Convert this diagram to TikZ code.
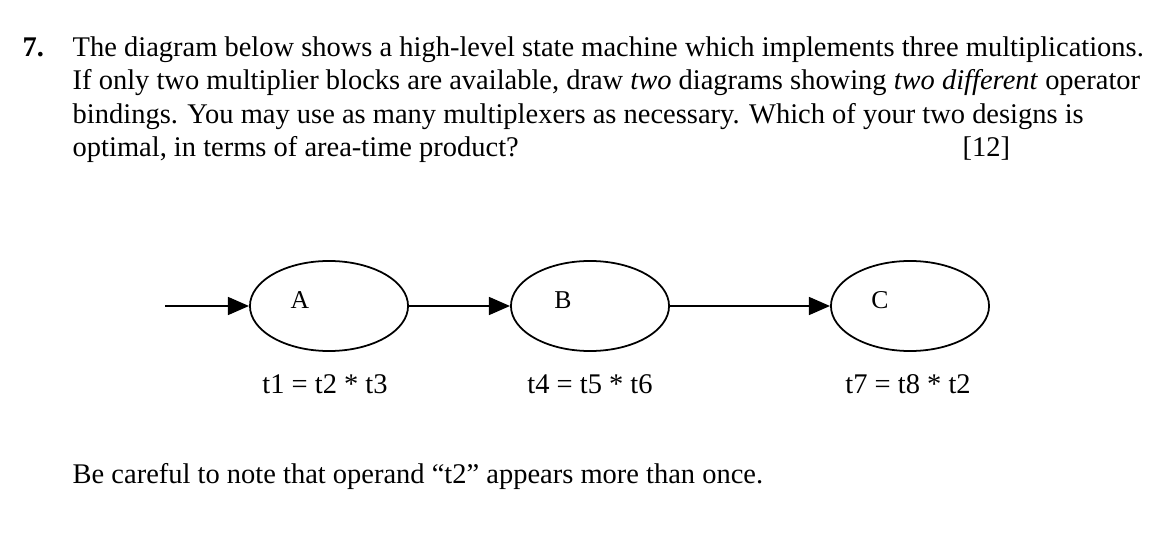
\documentclass[tikz,border=0pt]{standalone}
\usepackage{fontspec}
\setmainfont{Liberation Serif}
\usetikzlibrary{arrows.meta,shapes.geometric}
\begin{document}
\begin{tikzpicture}[x=0.01cm,y=-0.01cm,
  txt/.style={anchor=base west,inner sep=0,font=\fontsize{8.1}{10}\selectfont},
  st/.style={draw,ellipse,minimum width=1.58cm,minimum height=0.9cm,inner sep=0,line width=0.5pt},
  lbl/.style={font=\fontsize{7.3}{9}\selectfont,inner sep=0},
  eq/.style={font=\fontsize{8.1}{10}\selectfont,inner sep=0},
  arr/.style={-{Triangle[length=6pt,width=5pt]},line width=0.8pt}]
\useasboundingbox (0,0) rectangle (1152,537);
\node[txt,font=\fontsize{8.1}{10}\selectfont\bfseries] (n7) at (22,57) {7.};
\node[txt] (l1) at (72,57) {The diagram below shows a high-level state machine which implements three multiplications.};
\node[txt] (l2) at (72,90) {If only two multiplier blocks are available, draw \textit{two} diagrams showing \textit{two different} operator};
\node[txt] (l3) at (72,124) {bindings. You may use as many multiplexers as necessary. Which of your two designs is};
\node[txt] (l4) at (72,157) {optimal, in terms of area-time product?};
\node[txt] (m) at (962,157) {[12]};
\coordinate (s) at (165,306);
\node[st] (A) at (329,306) {};
\node[st] (B) at (590,306) {};
\node[st] (C) at (910,306) {};
\node[lbl] at (300,300) {A};
\node[lbl] at (563,300) {B};
\node[lbl] at (880,300) {C};
\draw[arr] (s) -- (A);
\draw[arr] (A) -- (B);
\draw[arr] (B) -- (C);
\node[eq] (e1) at (325,384) {t1 = t2 * t3};
\node[eq] (e2) at (590,384) {t4 = t5 * t6};
\node[eq] (e3) at (908,384) {t7 = t8 * t2};
\node[txt] (l5) at (72,483) {Be careful to note that operand “t2” appears more than once.};
\end{tikzpicture}
\end{document}
